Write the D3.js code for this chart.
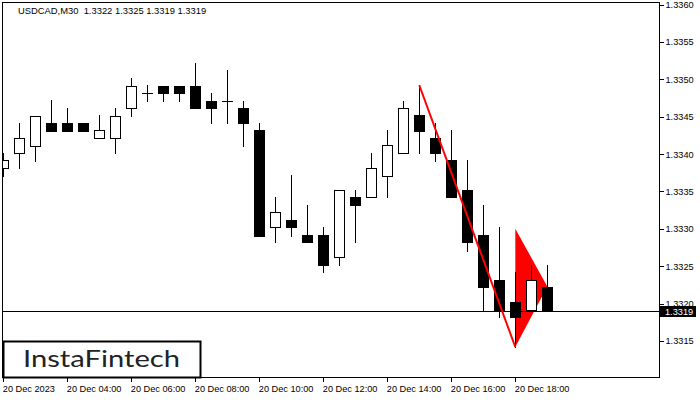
<!DOCTYPE html>
<html>
<head>
<meta charset="utf-8">
<script src="https://cdn.jsdelivr.net/npm/d3@7/dist/d3.min.js"></script>
<style>
html,body{margin:0;padding:0;background:#fff;}
svg{display:block;}
</style>
</head>
<body>
<svg id="chart" width="700" height="400"></svg>
<script>
// ---- data ----
const title = "USDCAD,M30  1.3322 1.3325 1.3319 1.3319";
const openP  = [1.33382,1.33402,1.33411,1.33442,1.33442,1.33442,1.33422,1.33422,1.33462,1.33482,1.33491,1.33491,1.33491,1.33471,1.33471,1.33462,1.33432,1.33302,1.33312,1.33292,1.33292,1.33262,1.33342,1.33342,1.33371,1.33402,1.33452,1.33422,1.33392,1.33352,1.33292,1.33231,1.33202,1.33191,1.33222];
const highP  = [1.33402,1.33442,1.33451,1.33472,1.33462,1.33442,1.33452,1.33462,1.33502,1.33492,1.33491,1.33491,1.33522,1.33482,1.33512,1.33471,1.33442,1.33342,1.33372,1.33332,1.33302,1.33352,1.33352,1.33402,1.33432,1.33471,1.33492,1.33442,1.33432,1.33392,1.33332,1.33302,1.33242,1.33251,1.33251];
const lowP   = [1.33371,1.33382,1.33391,1.33431,1.33431,1.33431,1.33422,1.33402,1.33451,1.33471,1.33471,1.33471,1.33462,1.33442,1.33442,1.33411,1.33291,1.33282,1.33291,1.33282,1.33242,1.33251,1.33282,1.33342,1.33342,1.33402,1.33402,1.33391,1.33342,1.33271,1.33191,1.33182,1.33142,1.33191,1.33191];
const closeP = [1.33392,1.33422,1.33451,1.33431,1.33431,1.33431,1.33432,1.33451,1.33491,1.33482,1.33482,1.33482,1.33462,1.33462,1.33471,1.33442,1.33291,1.33322,1.33302,1.33282,1.33251,1.33352,1.33332,1.33382,1.33412,1.33462,1.33431,1.33402,1.33342,1.33282,1.33222,1.33191,1.33182,1.33231,1.33191];
const xTickIdx = [0,4,8,12,16,20,24,28,32];
const xTickLabels = ["20 Dec 2023","20 Dec 04:00","20 Dec 06:00","20 Dec 08:00","20 Dec 10:00","20 Dec 12:00","20 Dec 14:00","20 Dec 16:00","20 Dec 18:00"];
const yTicks = [1.3315,1.3320,1.3325,1.3330,1.3335,1.3340,1.3345,1.3350,1.3355,1.3360];
const currentPrice = 1.3319;
const poleIdx = [26,32];
const polePrice = [1.33492,1.33142];
const flagIdx = [32,32,34];
const flagPrice = [1.33300,1.33142,1.33223];
const logoText = "InstaFintech";

// ---- layout ----
const L = 2.5, T = 2.5, R = 659.5, B = 377.5;
const svg = d3.select("#chart");
const x = d3.scaleLinear().domain([0,34]).range([3.3,547.3]);
const y = d3.scaleLinear().domain([1.3310,1.3360]).range([378.4,4.5]);
const font = "'Liberation Sans', Arial, sans-serif";

svg.append("defs").append("clipPath").attr("id","clip")
  .append("rect").attr("x",L+0.5).attr("y",T+0.5).attr("width",R-L-1).attr("height",B-T-1);
const plot = svg.append("g").attr("clip-path","url(#clip)");

// flag triangle
const flagPts = flagIdx.map((d,i)=>[x(d),y(flagPrice[i])]);
plot.append("path").attr("d", d3.line()(flagPts)+"Z").attr("fill","#ff0000");

// current price line
plot.append("line").attr("x1",L).attr("x2",R)
  .attr("y1",Math.round(y(currentPrice))+0.5).attr("y2",Math.round(y(currentPrice))+0.5)
  .attr("stroke","#000").attr("stroke-width",1).attr("shape-rendering","crispEdges");

// candles
const idx = d3.range(openP.length);
const cg = plot.append("g").attr("shape-rendering","crispEdges");
idx.forEach(i=>{
  const cx = Math.round(x(i));
  const o = openP[i], c = closeP[i];
  cg.append("line").attr("x1",cx+0.5).attr("x2",cx+0.5)
    .attr("y1",Math.round(y(highP[i]))).attr("y2",Math.round(y(lowP[i]))+1)
    .attr("stroke","#000").attr("stroke-width",1);
  const yt = Math.round(y(Math.max(o,c))), yb = Math.round(y(Math.min(o,c)));
  if (c < o) {
    cg.append("rect").attr("x",cx-5).attr("y",yt).attr("width",11).attr("height",Math.max(1,yb-yt+1)).attr("fill","#000");
  } else if (c > o) {
    cg.append("rect").attr("x",cx-4.5).attr("y",yt+0.5).attr("width",10).attr("height",Math.max(0,yb-yt))
      .attr("fill","#fff").attr("stroke","#000").attr("stroke-width",1);
  } else {
    cg.append("line").attr("x1",cx-5).attr("x2",cx+6).attr("y1",yt+0.5).attr("y2",yt+0.5)
      .attr("stroke","#000").attr("stroke-width",1);
  }
});

// pole line
plot.append("path").attr("d", d3.line()(poleIdx.map((d,i)=>[x(d),y(polePrice[i])])))
  .attr("stroke","#ff0000").attr("stroke-width",2).attr("fill","none");

// frame
svg.append("rect").attr("x",L).attr("y",T).attr("width",R-L).attr("height",B-T)
  .attr("fill","none").attr("stroke","#000").attr("stroke-width",1).attr("shape-rendering","crispEdges");

// title
svg.append("text").attr("x",18).attr("y",14).attr("font-family",font).attr("font-size","9.4px")
  .attr("fill","#000").attr("xml:space","preserve").style("white-space","pre").text(title);

// y axis
const yAxis = svg.append("g").attr("transform",`translate(${R},0)`)
  .call(d3.axisRight(y).tickValues(yTicks).tickFormat(d3.format(".4f")).tickSize(4).tickPadding(2));
yAxis.select(".domain").remove();
yAxis.selectAll("line").attr("shape-rendering","crispEdges");
yAxis.selectAll("text").attr("font-family",font).attr("font-size","9.2px").attr("fill","#000");

// x axis
const xAxis = svg.append("g").attr("transform",`translate(0,${B})`)
  .call(d3.axisBottom(x).tickValues(xTickIdx).tickFormat((d,i)=>xTickLabels[i]).tickSize(4).tickPadding(4));
xAxis.select(".domain").remove();
xAxis.selectAll("line").attr("shape-rendering","crispEdges");
xAxis.selectAll("text").attr("font-family",font).attr("font-size","9.2px").attr("fill","#000")
  .attr("text-anchor","start").attr("dx","-1");

// current price label
const cy = Math.round(y(currentPrice));
svg.append("rect").attr("x",660).attr("y",cy-5).attr("width",36).attr("height",11).attr("fill","#000");
svg.append("text").attr("x",665).attr("y",cy+4).attr("font-family",font).attr("font-size","9.2px")
  .attr("fill","#fff").text(d3.format(".4f")(currentPrice));

// logo
svg.append("rect").attr("x",3.5).attr("y",341.5).attr("width",197).attr("height",36)
  .attr("fill","#fff").attr("stroke","#000").attr("stroke-width",2);
svg.append("text").attr("x",23).attr("y",367).attr("font-family","Lato, 'Noto Sans', sans-serif")
  .attr("font-size","24px").attr("fill","#222").attr("textLength",157).attr("lengthAdjust","spacingAndGlyphs")
  .text(logoText);
</script>
</body>
</html>
